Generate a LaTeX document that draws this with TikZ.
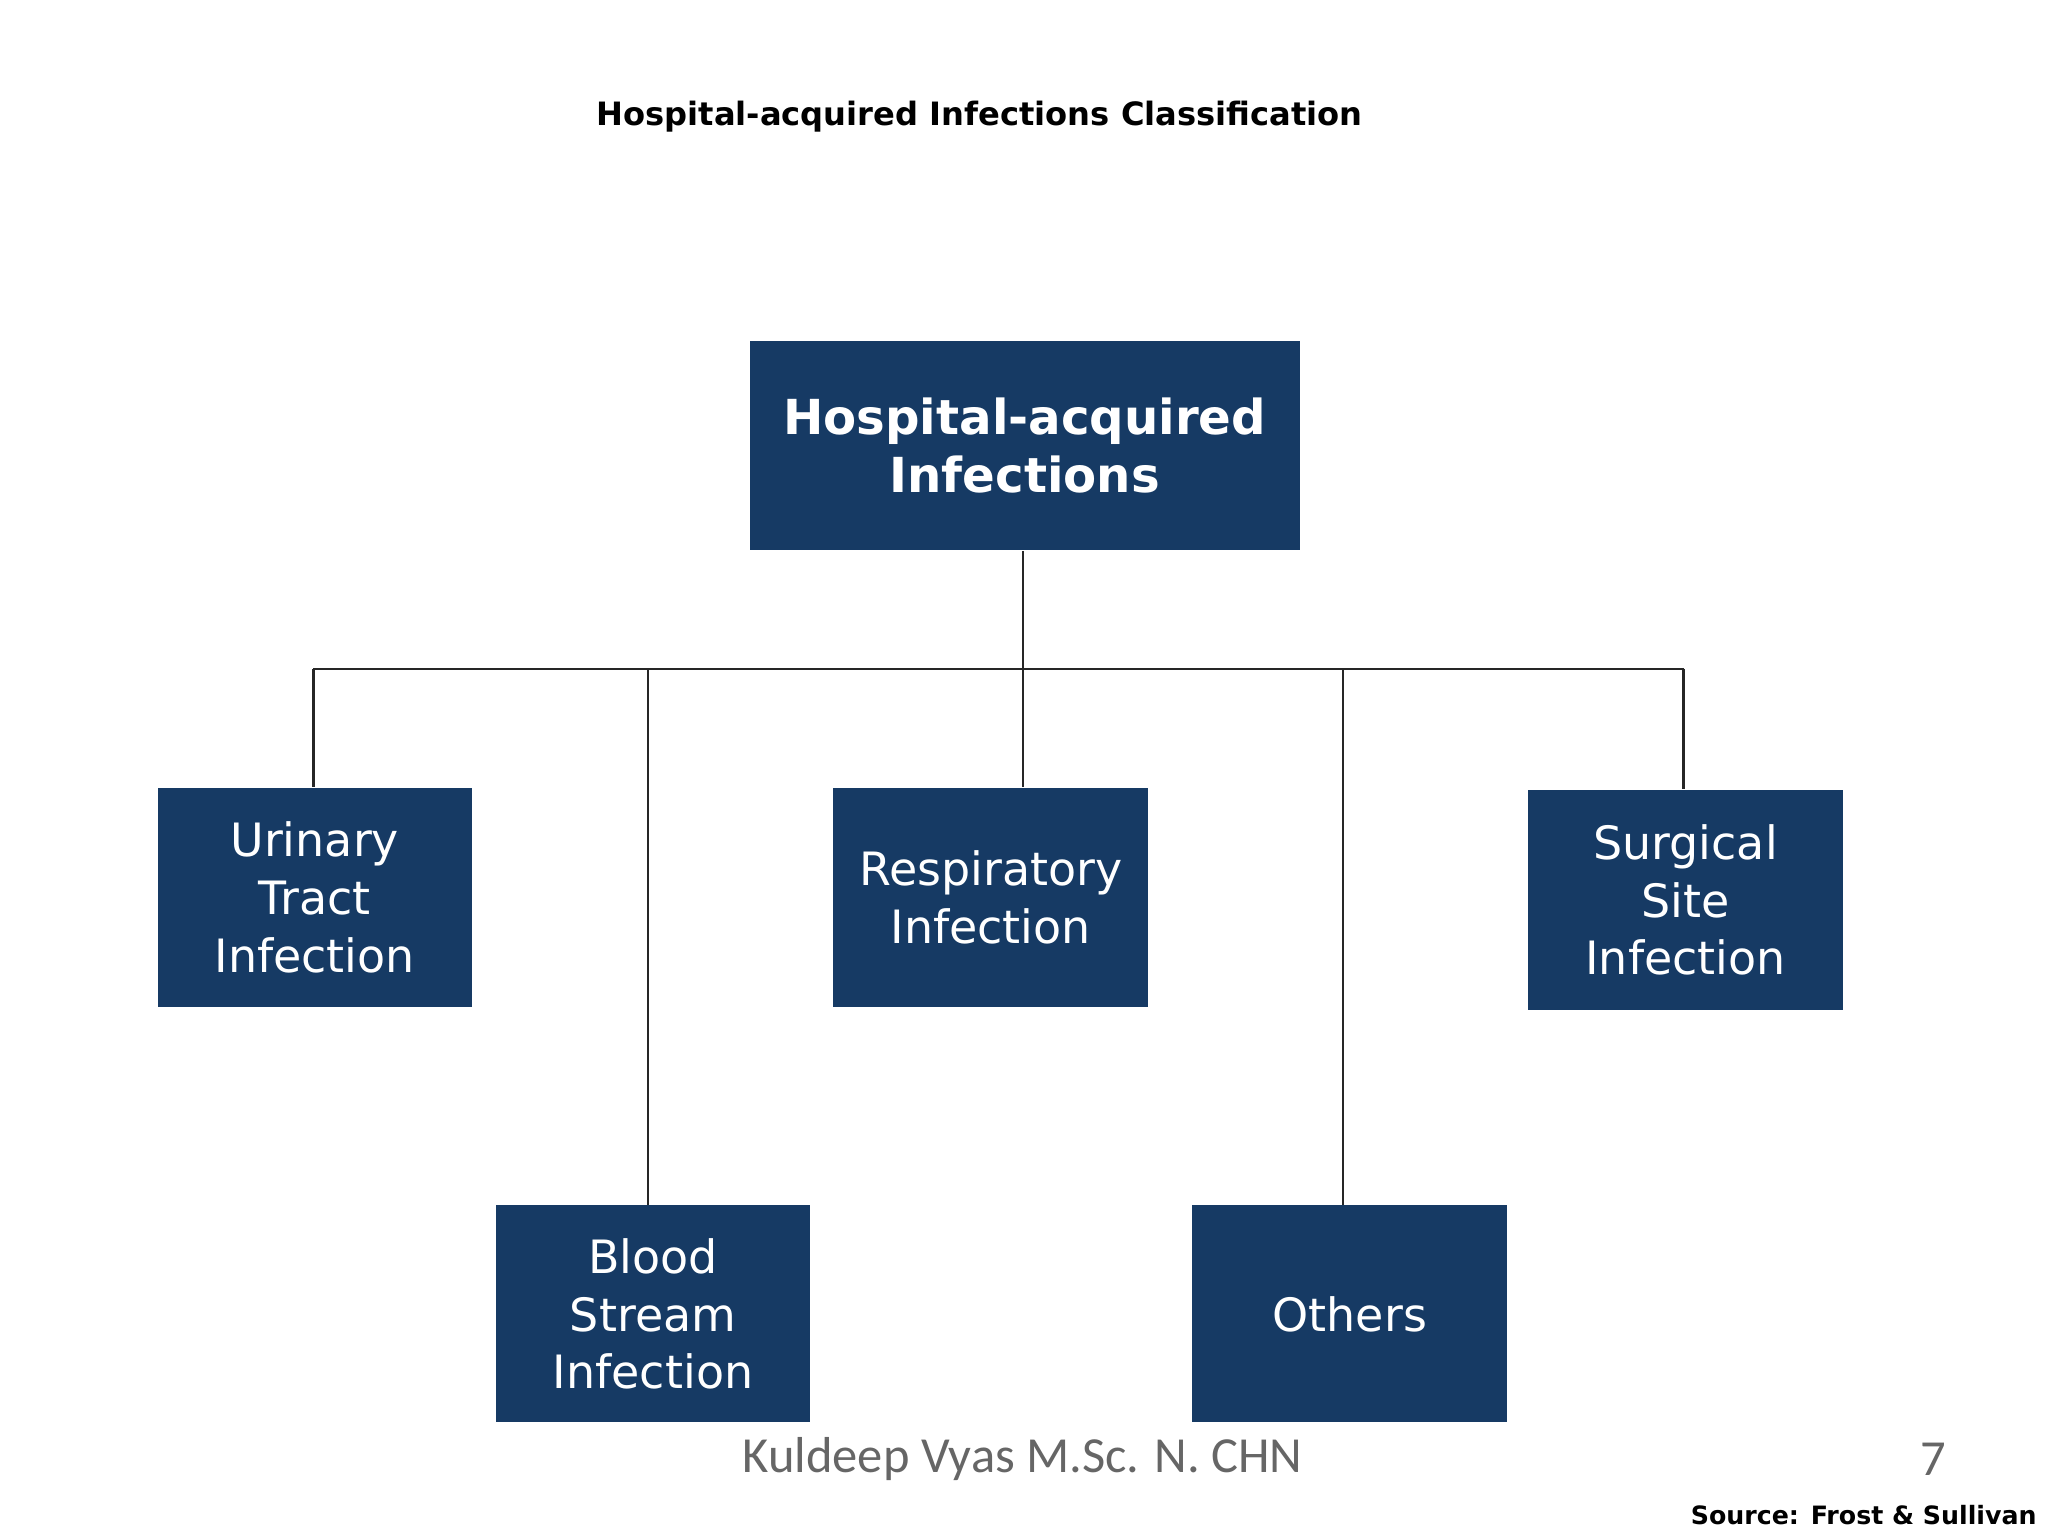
\documentclass[tikz,border=0pt]{standalone}
\usepackage{fontspec}
\setmainfont{DejaVu Sans}
\newfontfamily\carlitofont{Carlito}
\definecolor{navy}{HTML}{163A64}
\begin{document}
\begin{tikzpicture}[x=0.01cm,y=-0.01cm,
 bx/.style={fill=navy,text=white,align=center,inner sep=0,font=\fontsize{10}{12.6}\selectfont},
 ln/.style={draw=black!85,line width=0.5pt}]
\useasboundingbox (0,0) rectangle (1568,1176);
\node[font=\fontsize{7}{8}\selectfont\bfseries] (t) at (750,89) {Hospital-acquired Infections Classification};
\node[bx,minimum width=4.21cm,minimum height=1.60cm,font=\fontsize{10.5}{12.6}\selectfont\bfseries] (h) at (784.5,341) {Hospital-acquired\\Infections};
\node[bx,minimum width=2.40cm,minimum height=1.68cm] (u) at (241,687) {Urinary\\Tract\\Infection};
\node[bx,minimum width=2.41cm,minimum height=1.68cm] (r) at (758.5,687) {Respiratory\\Infection};
\node[bx,minimum width=2.41cm,minimum height=1.68cm] (s) at (1290.5,689) {Surgical\\Site\\Infection};
\node[bx,minimum width=2.40cm,minimum height=1.66cm] (b) at (500,1006) {Blood\\Stream\\Infection};
\node[bx,minimum width=2.41cm,minimum height=1.66cm] (o) at (1033.5,1006) {Others};
\coordinate (j) at (783,512);
\draw[ln] (h.south -| j) -- (j);
\draw[ln] (240,512) -- (1289,512);
\draw[ln] (240,512) -- (u.north -| 240,0);
\draw[ln] (496,512) -- (b.north -| 496,0);
\draw[ln] (j) -- (r.north -| j);
\draw[ln] (1028,512) -- (o.north -| 1028,0);
\draw[ln] (1289,512) -- (s.north -| 1289,0);
\node[font=\carlitofont\fontsize{11}{13}\selectfont,text=black!60] (f) at (783,1117) {Kuldeep Vyas M.Sc. N. CHN};
\node[font=\carlitofont\fontsize{11}{13}\selectfont,text=black!60] (n) at (1480,1117) {7};
\node[font=\fontsize{5.5}{7}\selectfont\bfseries,anchor=east,inner sep=0] (src) at (1560,1160) {Source: Frost \& Sullivan};
\end{tikzpicture}
\end{document}
